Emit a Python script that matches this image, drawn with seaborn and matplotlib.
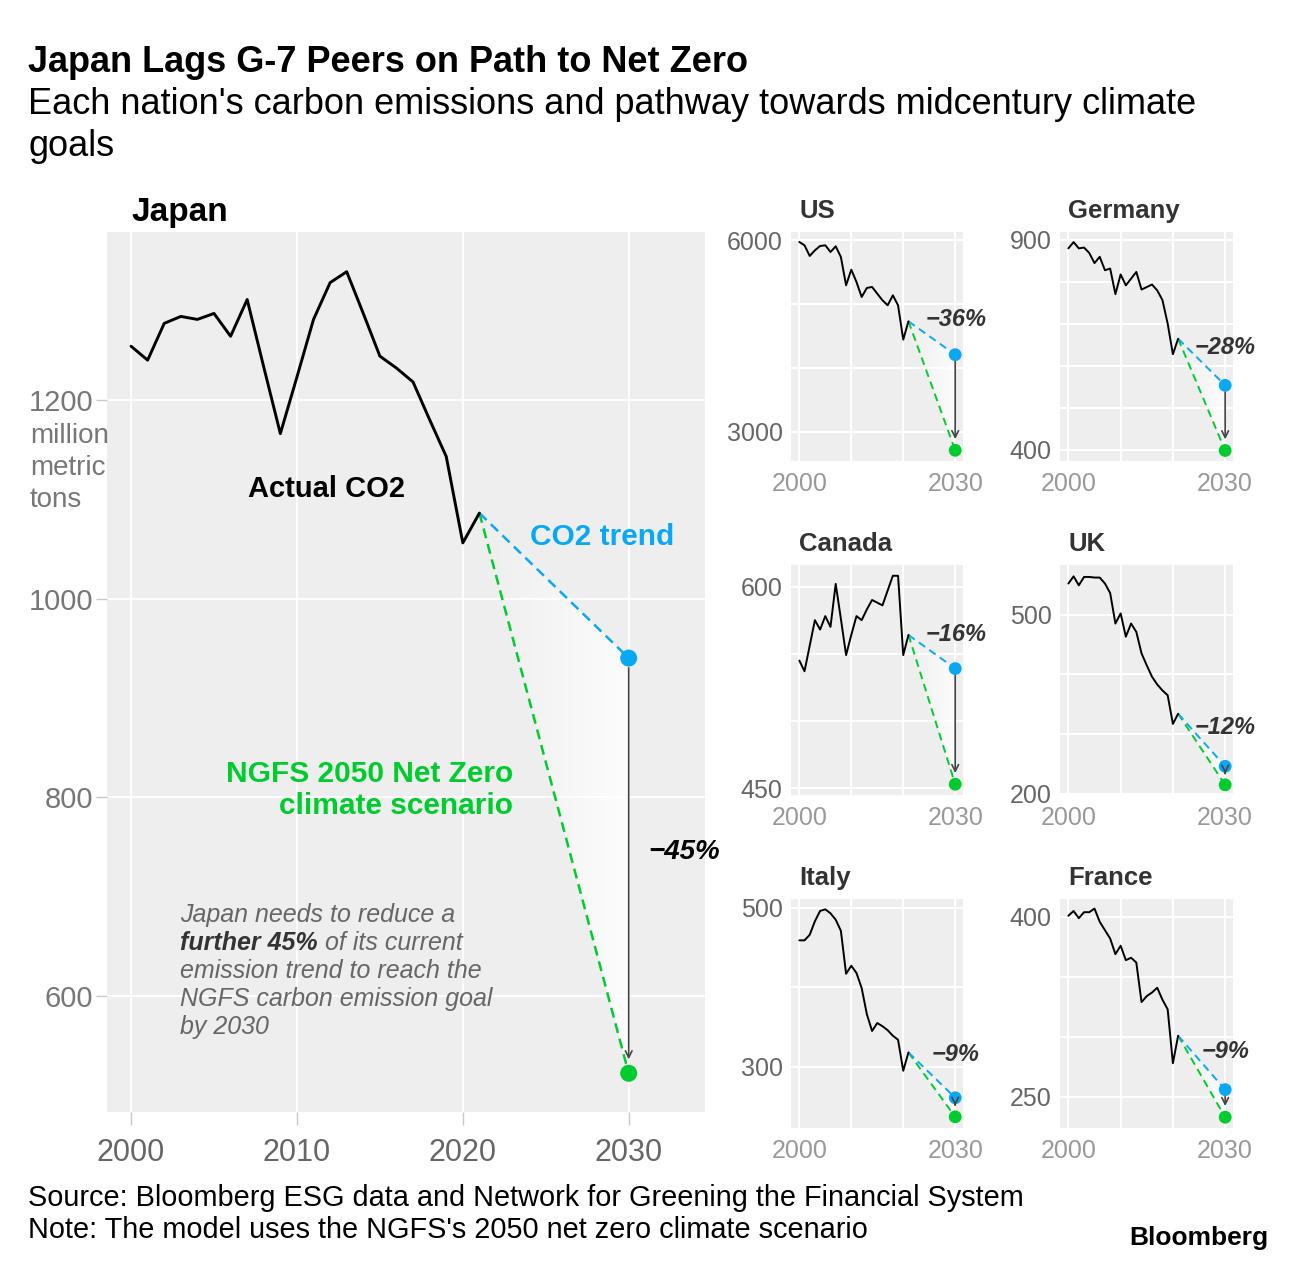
import numpy as np
import matplotlib
matplotlib.use("Agg")
import matplotlib.pyplot as plt
from matplotlib.colors import LinearSegmentedColormap
import seaborn as sns

# --- datos (millones de toneladas de CO2) ---
years = list(range(2000, 2022))
target_year = 2030

japan_actual = [1254, 1240, 1277, 1284, 1281, 1287, 1264, 1301, 1233, 1166, 1223,
                1281, 1318, 1329, 1287, 1244, 1232, 1218, 1180, 1143, 1056, 1086]
japan_trend_2030 = 940
japan_ngfs_2030 = 522
japan_pct = "\u221245%"

countries = ["US", "Germany", "Canada", "UK", "Italy", "France"]
us_actual = [5974, 5922, 5755, 5843, 5911, 5922, 5817, 5906, 5739, 5295, 5541,
             5348, 5113, 5254, 5270, 5165, 5061, 4983, 5139, 4983, 4446, 4732]
germany_actual = [879, 894, 879, 881, 868, 844, 859, 827, 831, 770, 817,
                  791, 807, 823, 781, 787, 793, 779, 756, 700, 627, 664]
canada_actual = [545, 537, 556, 575, 568, 578, 570, 602, 576, 549, 564,
                 578, 575, 583, 590, 588, 586, 597, 608, 608, 549, 564]
uk_actual = [552, 564, 549, 563, 563, 562, 562, 552, 536, 485, 502,
             463, 485, 471, 435, 415, 396, 383, 373, 365, 317, 334]
italy_actual = [459, 459, 466, 483, 496, 498, 493, 485, 471, 417, 427,
                418, 399, 366, 345, 355, 351, 346, 339, 334, 295, 318]
france_actual = [401, 405, 399, 404, 404, 407, 396, 389, 382, 369, 376,
                 364, 366, 362, 329, 334, 337, 341, 331, 323, 278, 301]
actual_series = [us_actual, germany_actual, canada_actual, uk_actual, italy_actual, france_actual]
trend_2030 = [4210, 553, 539, 246, 261, 256]
ngfs_2030 = [2713, 398, 453, 215, 237, 233]
pct_labels = ["\u221236%", "\u221228%", "\u221216%", "\u221212%", "\u22129%", "\u22129%"]
y_ticks = [[3000, 4000, 5000, 6000], [400, 500, 600, 700, 800, 900], [450, 500, 550, 600],
           [200, 300, 400, 500], [300, 400, 500], [250, 300, 350, 400]]

# --- estilo ---
BLUE = "#0AA8F2"
GREEN = "#00CC2E"
BG = "#EEEEEE"
sns.set_theme(style="darkgrid", rc={"axes.facecolor": BG, "grid.color": "white",
                                    "grid.linewidth": 1.3, "figure.facecolor": "white",
                                    "text.color": "black"})
plt.rcParams["font.family"] = ["Liberation Sans", "DejaVu Sans"]

W, H = 1296, 1264
fig = plt.figure(figsize=(W / 100, H / 100), dpi=100)


def rect(l, t, r, b):
    return [l / W, 1 - b / H, (r - l) / W, (b - t) / H]


def gradient_fill(ax, x0, x1, y0, y_hi, y_lo):
    poly = ax.fill([x0, x1, x1], [y0, y_hi, y_lo], facecolor="none", edgecolor="none")[0]
    grad = np.linspace(0, 1, 256).reshape(1, -1)
    cmap = LinearSegmentedColormap.from_list("blanco", [(1, 1, 1, 0.0), (1, 1, 1, 0.85)])
    im = ax.imshow(grad, extent=[x0, x1, min(y_lo, y0), max(y0, y_hi)], aspect="auto",
                   cmap=cmap, origin="lower", zorder=1.5, interpolation="bilinear")
    im.set_clip_path(poly)


def pathway(ax, actual, trend, ngfs, lw_main, lw_dash, dot, dash, shrink):
    start = actual[-1]
    x0 = years[-1]
    gradient_fill(ax, x0, target_year, start, trend, ngfs)
    ax.plot([x0, target_year], [start, ngfs], color=GREEN, lw=lw_dash, ls=(0, dash), zorder=2)
    ax.plot([x0, target_year], [start, trend], color=BLUE, lw=lw_dash, ls=(0, dash), zorder=2)
    sns.lineplot(x=years, y=actual, ax=ax, color="black", lw=lw_main, zorder=3)
    sns.scatterplot(x=[target_year], y=[trend], ax=ax, color=BLUE, s=dot, edgecolor="none", zorder=4)
    sns.scatterplot(x=[target_year], y=[ngfs], ax=ax, color=GREEN, s=dot, edgecolor="none", zorder=4)
    ax.annotate("", xy=(target_year, ngfs), xytext=(target_year, trend),
                arrowprops=dict(arrowstyle="->", color="#444444", lw=1.2,
                                shrinkA=shrink[0], shrinkB=shrink[1], mutation_scale=12),
                zorder=5)
    ax.set_xlabel("")
    ax.set_ylabel("")
    for s in ax.spines.values():
        s.set_visible(False)


# --- títulos ---
fig.text(28 / W, 1 - 62 / H, "Japan Lags G-7 Peers on Path to Net Zero",
         fontsize=26, weight="bold", va="center", ha="left", color="black")
fig.text(28 / W, 1 - 105 / H, "Each nation's carbon emissions and pathway towards midcentury climate",
         fontsize=26, va="center", ha="left", color="black")
fig.text(28 / W, 1 - 147 / H, "goals", fontsize=26, va="center", ha="left", color="black")

# --- gráfico principal: Japón ---
ax = fig.add_axes(rect(107, 232, 705, 1112))
pathway(ax, japan_actual, japan_trend_2030, japan_ngfs_2030, 2.1, 1.8, 150, (4, 2.4), (7, 10))
ax.set_xlim(1998.55, 2034.6)
ax.set_ylim(483, 1369)
ax.set_xticks([2000, 2010, 2020, 2030])
ax.set_yticks([600, 800, 1000, 1200])
ax.tick_params(axis="x", labelsize=22, labelcolor="#666666", color="#C8C8C8",
               length=9, width=1, pad=10, bottom=True)
ax.tick_params(axis="y", labelsize=21, labelcolor="#777777", color="#C8C8C8",
               length=8, width=1, pad=2, left=True)
ax.annotate("Japan", xy=(2000, 1), xycoords=("data", "axes fraction"), xytext=(0, 8),
            textcoords="offset points", fontsize=24, weight="bold", ha="left", va="baseline",
            color="black")
fig.text(30 / W, 1 - 468 / H, "million\nmetric\ntons", fontsize=20, color="#777777",
         va="center", ha="left", linespacing=1.3)

ax.text(2011.8, 1110, "Actual CO2", fontsize=21, weight="bold", ha="center", va="center",
        color="black")
ax.text(2028.4, 1062, "CO2 trend", fontsize=21.5, weight="bold", color=BLUE, ha="center", va="center")
ax.text(2023.05, 807, "NGFS 2050 Net Zero\nclimate scenario", fontsize=21.5, weight="bold",
        color=GREEN, ha="right", va="center", linespacing=1.2)
ax.annotate(japan_pct, xy=(target_year, (japan_trend_2030 + japan_ngfs_2030) / 2),
            xytext=(14, 10), textcoords="offset points", fontsize=20, weight="bold",
            style="italic", ha="left", va="center", annotation_clip=False, color="black")

note_kw = dict(fontsize=18, style="italic", color="#666666", ha="left", va="bottom",
               textcoords="offset points")
step = 20.2
note_xy = (2002.96, 669)
ax.annotate("Japan needs to reduce a", xy=note_xy, xytext=(0, 0), **note_kw)
bold_part = ax.annotate("further 45%", xy=note_xy, xytext=(0, -step),
                        fontsize=18, style="italic", weight="bold", color="#333333",
                        ha="left", va="bottom", textcoords="offset points")
ax.annotate(" of its current", xy=(1, 0), xycoords=bold_part, fontsize=18, style="italic",
            color="#666666", ha="left", va="bottom")
for i, line in enumerate(["emission trend to reach the", "NGFS carbon emission goal", "by 2030"]):
    ax.annotate(line, xy=note_xy, xytext=(0, -step * (i + 2)), **note_kw)

# --- pequeños múltiplos ---
cols = [(791, 963), (1060, 1233)]
rows = [(232, 461), (565, 795), (899, 1128)]
y_limits = [(2546, 6130), (373, 918), (445, 616), (198, 583), (223, 511), (224, 415)]
pct_drop = [-2, 9, 0, 14, 2, 16]  # desplazamiento vertical de la etiqueta, px

for i, name in enumerate(countries):
    l, r = cols[i % 2]
    t, b = rows[i // 2]
    sax = fig.add_axes(rect(l, t, r, b))
    pathway(sax, actual_series[i], trend_2030[i], ngfs_2030[i], 1.4, 1.4, 85, (4, 2.6), (5, 8))
    sax.set_xlim(1998.4, 2031.5)
    sax.set_ylim(*y_limits[i])
    sax.set_xticks([2000, 2010, 2020, 2030])
    sax.set_xticklabels(["2000", "", "", "2030"])
    ticks = y_ticks[i]
    sax.set_yticks(ticks)
    sax.set_yticklabels([str(ticks[0])] + [""] * (len(ticks) - 2) + [str(ticks[-1])])
    sax.tick_params(axis="x", labelsize=18, labelcolor="#999999", length=0, pad=8)
    sax.tick_params(axis="y", labelsize=18, labelcolor="#666666", length=0, pad=6)
    sax.grid(True, color="white", lw=1.4)
    sax.annotate(name, xy=(2000, 1), xycoords=("data", "axes fraction"), xytext=(0, 10),
                 textcoords="offset points", fontsize=18.5, weight="bold", color="#333333",
                 ha="left", va="baseline")
    sax.annotate(pct_labels[i], xy=(years[-1], actual_series[i][-1]),
                 xytext=(34, -pct_drop[i] * 0.72), textcoords="offset points",
                 fontsize=17, weight="bold", style="italic", color="#333333",
                 ha="center", va="center", annotation_clip=False)

# --- pie ---
fig.text(28 / W, 1 - 1198 / H, "Source: Bloomberg ESG data and Network for Greening the Financial System",
         fontsize=20.8, va="center", ha="left", color="black")
fig.text(28 / W, 1 - 1230 / H, "Note: The model uses the NGFS's 2050 net zero climate scenario",
         fontsize=20.8, va="center", ha="left", color="black")
fig.text(1268 / W, 1 - 1238 / H, "Bloomberg", fontsize=19, weight="bold", va="center", ha="right",
         color="black")

fig.savefig("out.png", dpi=100)
